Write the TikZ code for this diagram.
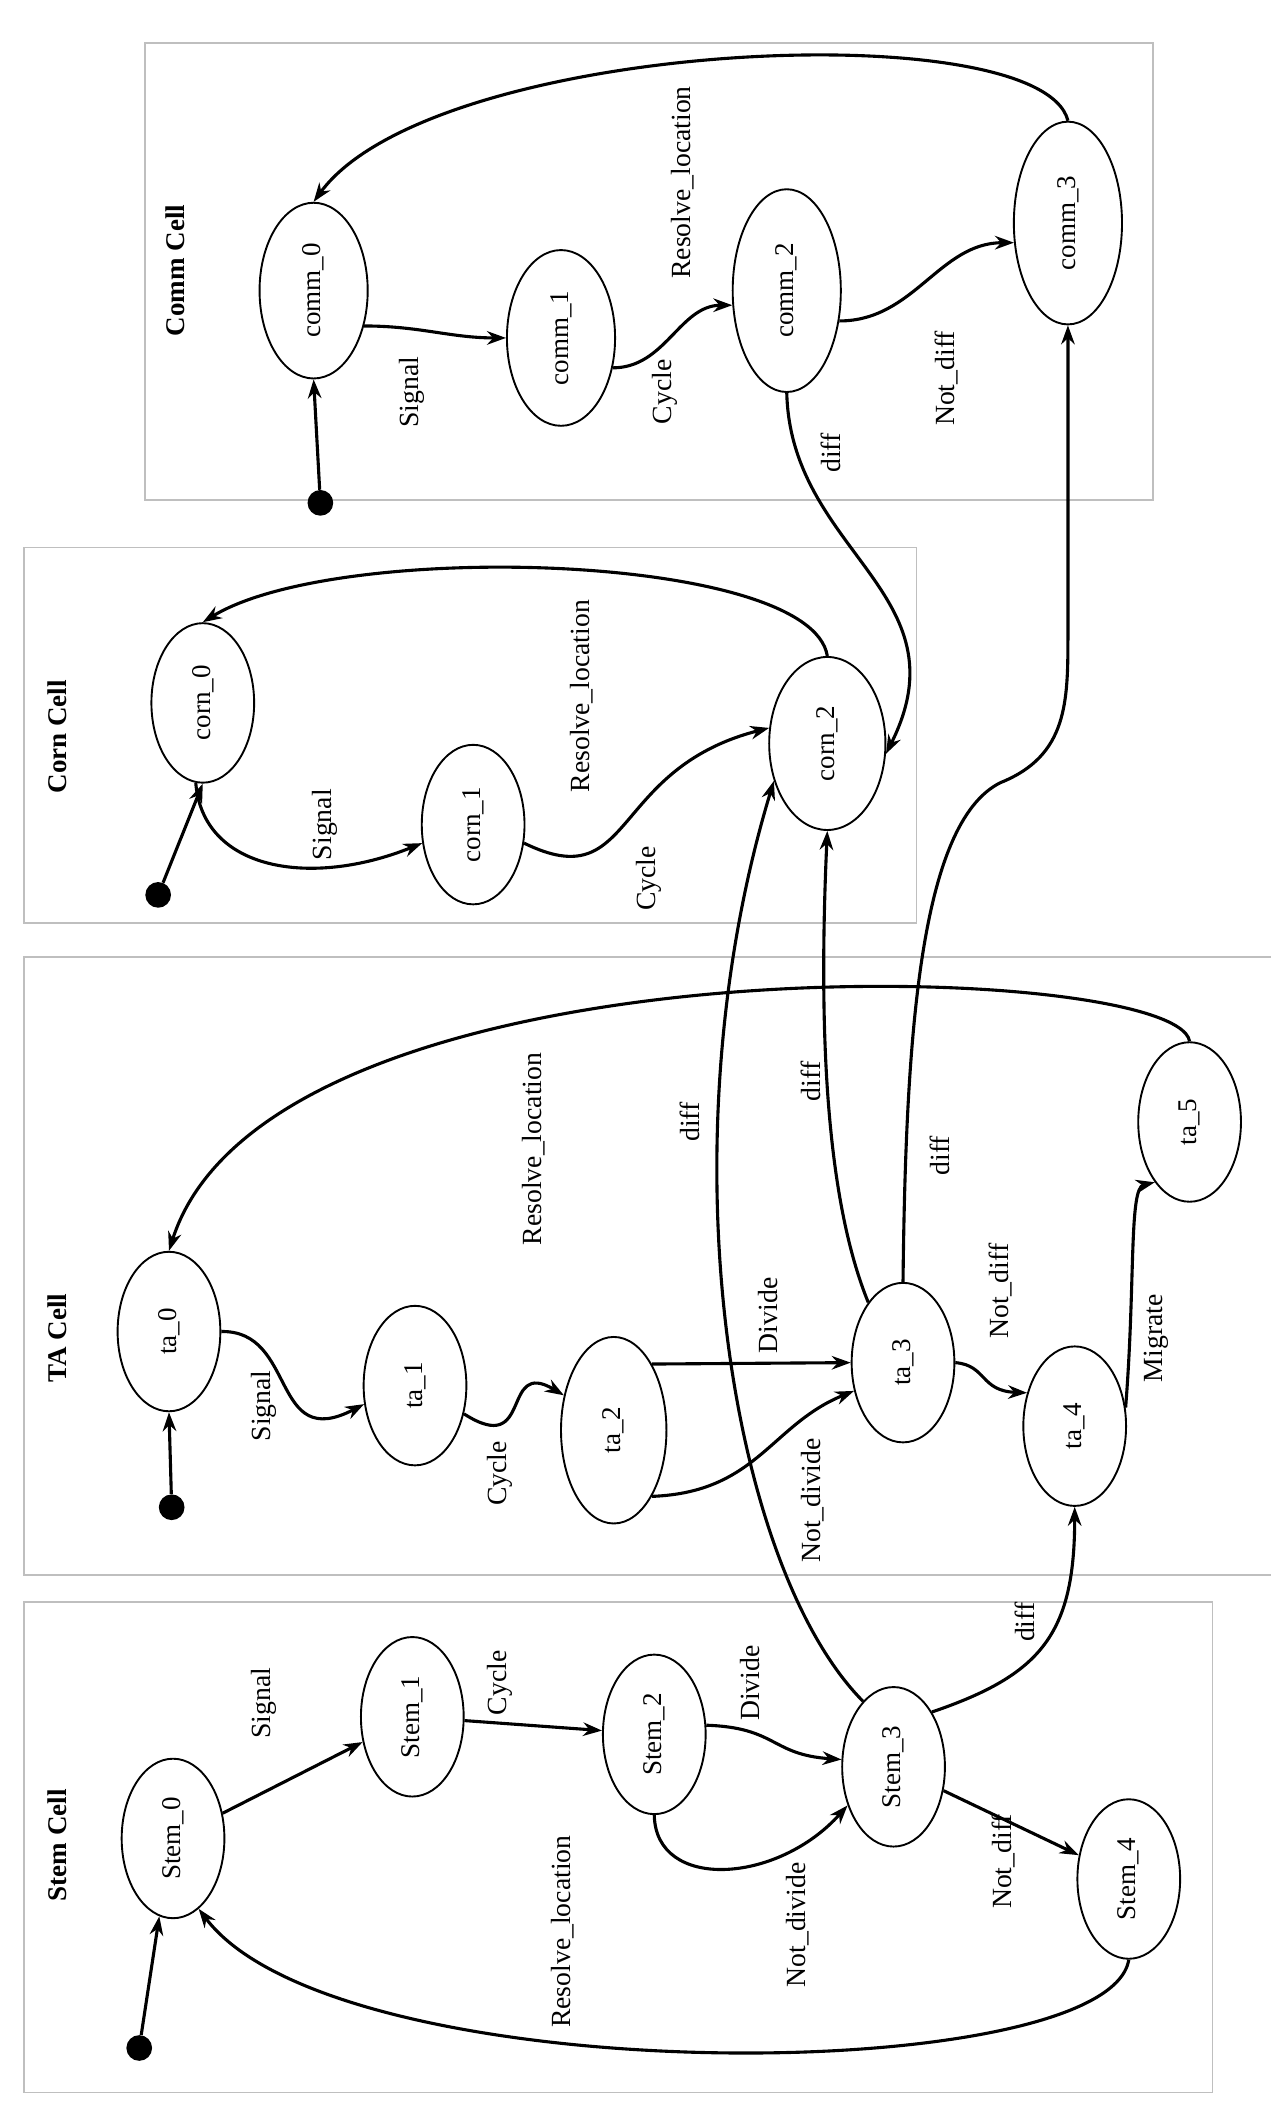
\documentclass[tikz,border=0pt]{standalone}
\usepackage{fontspec}
\setmainfont{Liberation Serif}
\usetikzlibrary{shapes.geometric,arrows.meta}
\begin{document}
\begin{tikzpicture}[x=1pt,y=1pt,
  st/.style={draw,ellipse,line width=1.4pt,minimum width=76pt,minimum height=118pt,inner sep=0pt,font=\fontsize{20}{22}\selectfont},
  lb/.style={rotate=90,font=\fontsize{20.5}{22}\selectfont},
  ttl/.style={rotate=90,font=\fontsize{20}{22}\selectfont\bfseries},
  box/.style={draw=black!25,line width=1.3pt},
  ar/.style={line width=2.3pt,-{Stealth[length=14pt,width=10pt]}},
  dot/.style={circle,fill=black,minimum size=19pt,inner sep=0pt}]
\useasboundingbox (0,0) rectangle (940,1569);
% boxes
\draw[box] (18,21) rectangle (897,384);
\draw[box] (18,404) rectangle (945,861);
\draw[box] (18,886) rectangle (678,1164);
\draw[box] (107,1199) rectangle (853,1537);
\node[ttl] (tS) at (42,204) {Stem Cell};
\node[ttl] (tT) at (42,579) {TA Cell};
\node[ttl] (tC) at (42,1024) {Corn Cell};
\node[ttl] (tM) at (130,1369) {Comm Cell};
% stem
\node[st] (s0) at (128,209) {\rotatebox{90}{Stem\_0}};
\node[st] (s1) at (305,299) {\rotatebox{90}{Stem\_1}};
\node[st] (s2) at (484,286) {\rotatebox{90}{Stem\_2}};
\node[st] (s3) at (661,262) {\rotatebox{90}{Stem\_3}};
\node[st] (s4) at (835,179) {\rotatebox{90}{Stem\_4}};
\node[dot] (sd) at (103,54) {};
% ta
\node[st] (t0) at (125,584) {\rotatebox{90}{ta\_0}};
\node[st] (t1) at (307,544) {\rotatebox{90}{ta\_1}};
\node[st,minimum height=138pt,minimum width=78pt] (t2) at (454,511) {\rotatebox{90}{ta\_2}};
\node[st] (t3) at (668,561) {\rotatebox{90}{ta\_3}};
\node[st] (t4) at (795,514) {\rotatebox{90}{ta\_4}};
\node[st] (t5) at (880,739) {\rotatebox{90}{ta\_5}};
\node[dot] (td) at (127,454) {};
% corn
\node[st] (c0) at (150,1049) {\rotatebox{90}{corn\_0}};
\node[st] (c1) at (350,959) {\rotatebox{90}{corn\_1}};
\node[st,minimum height=128pt,minimum width=86pt] (c2) at (612,1019) {\rotatebox{90}{corn\_2}};
\node[dot] (cd) at (117,907) {};
% comm
\node[st,minimum width=80pt,minimum height=130pt] (m0) at (232,1354) {\rotatebox{90}{comm\_0}};
\node[st,minimum width=80pt,minimum height=130pt] (m1) at (415,1319) {\rotatebox{90}{comm\_1}};
\node[st,minimum width=80pt,minimum height=150pt] (m2) at (582,1354) {\rotatebox{90}{comm\_2}};
\node[st,minimum width=80pt,minimum height=150pt] (m3) at (790,1404) {\rotatebox{90}{comm\_3}};
\node[dot] (md) at (237,1197) {};
% stem edges
\draw[ar] (sd) -- (s0.-100);
\draw[ar] (s0) -- (s1);
\draw[ar] (s1) -- (s2);
\draw[ar] (s2.10) .. controls (575,291) and (570,271) .. (s3.172);
\draw[ar] (s2.south) .. controls (485,170) and (575,175) .. (s3.-140);
\draw[ar] (s3) -- (s4);
\draw[ar] (s3.55) .. controls (770,330) and (795,360) .. (t4.south);
\draw[ar] (s3.115) .. controls (540,410) and (490,720) .. (c2.215);
\draw[ar] (s4.south) .. controls (820,25) and (250,20) .. (s0.-70);
\node[lb] (l1) at (195,309) {Signal};
\node[lb] (l2) at (370,324) {Cycle};
\node[lb] (l3) at (555,324) {Divide};
\node[lb] (l4) at (590,145) {Not\_divide};
\node[lb] (l5) at (416,140) {Resolve\_location};
\node[lb] (l6) at (742,192) {Not\_diff};
\node[lb] (l7) at (758,369) {diff};
% ta edges
\draw[ar] (td) -- (t0.south);
\draw[ar] (t0.east) .. controls (220,585) and (200,494) .. (t1.200);
\draw[ar] (t1.-30) .. controls (395,490) and (370,565) .. (t2.145);
\draw[ar] (t2.60) -- (t3.west);
\draw[ar] (t2.-60) .. controls (560,465) and (570,515) .. (t3.-150);
\draw[ar] (t3.east) .. controls (730,559) and (725,540) .. (t4.145);
\draw[ar] (t4.20) .. controls (840,620) and (835,690) .. (t5.-120);
\draw[ar] (t3.120) .. controls (612,680) and (605,800) .. (c2.south);
\draw[ar] (t3.north) .. controls (670,800) and (680,960) .. (740,990) .. controls (790,1010) and (790,1050) .. (790,1100) -- (m3.south);
\draw[ar] (t5.north) .. controls (870,860) and (200,880) .. (t0.north);
\node[lb] (l8) at (195,529) {Signal};
\node[lb] (l9) at (370,479) {Cycle};
\node[lb] (l10) at (568,596) {Divide};
\node[lb] (l11) at (601,459) {Not\_divide};
\node[lb] (l12) at (740,614) {Not\_diff};
\node[lb] (l13) at (855,579) {Migrate};
\node[lb] (l14) at (600,769) {diff};
\node[lb] (l15) at (695,714) {diff};
\node[lb] (l16) at (510,739) {diff};
\node[lb] (l17) at (395,719) {Resolve\_location};
% corn edges
\draw[ar] (cd) -- (c0.south);
\draw[ar] (c0.-95) .. controls (150,925) and (230,912) .. (c1.200);
\draw[ar] (c1.-20) .. controls (470,905) and (450,1000) .. (c2.165);
\draw[ar] (c2.north) .. controls (600,1160) and (250,1170) .. (c0.north);
\node[lb] (l18) at (240,959) {Signal};
\node[lb] (l19) at (480,919) {Cycle};
\node[lb] (l20) at (430,1054) {Resolve\_location};
% comm edges
\draw[ar] (md) -- (m0.south);
\draw[ar] (m0.-35) to[out=0,in=180] (m1.west);
\draw[ar] (m1.-30) to[out=0,in=180] (m2.195);
\draw[ar] (m2.-30) to[out=0,in=180] (m3.200);
\draw[ar] (m3.north) .. controls (770,1560) and (320,1540) .. (m0.north);
\draw[ar] (m2.south) .. controls (585,1160) and (715,1130) .. (c2.-10);
\node[lb] (l21) at (305,1279) {Signal};
\node[lb] (l22) at (492,1279) {Cycle};
\node[lb] (l23) at (700,1289) {Not\_diff};
\node[lb] (l24) at (505,1434) {Resolve\_location};
\node[lb] (l25) at (615,1234) {diff};
\end{tikzpicture}
\end{document}
